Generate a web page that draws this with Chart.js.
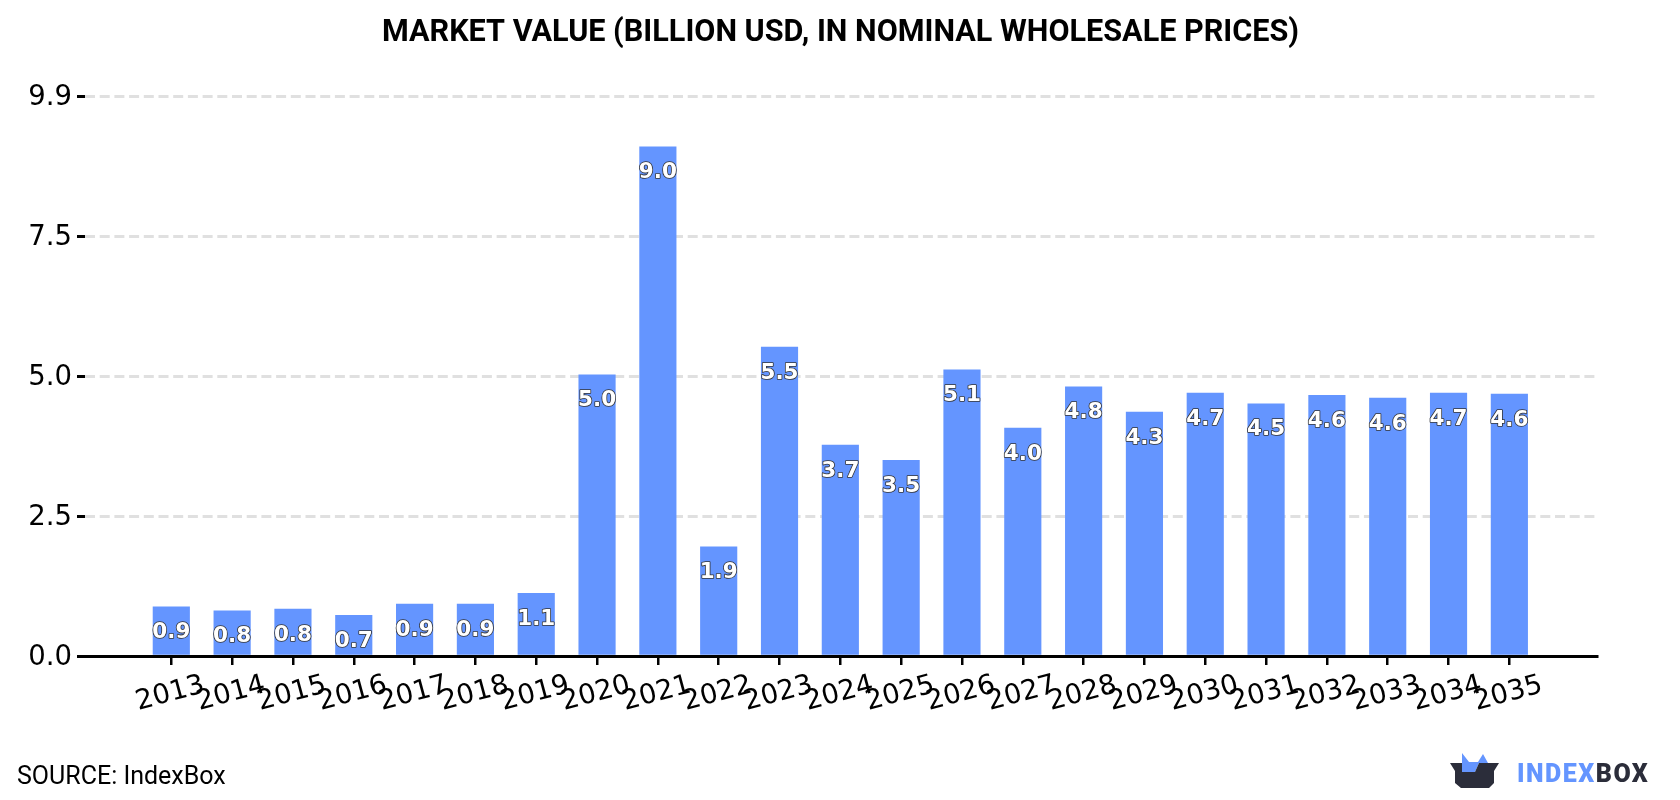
<!DOCTYPE html>
<html>
<head>
<meta charset="utf-8">
<title>Market value</title>
<script src="https://cdn.jsdelivr.net/npm/chart.js@4"></script>
<style>
  body { margin: 0; background: #fff; }
  canvas { display: block; }
</style>
</head>
<body>
<canvas id="market-chart" width="1680" height="800"></canvas>
<script>
const years = [2013, 2014, 2015, 2016, 2017, 2018, 2019, 2020, 2021, 2022, 2023, 2024,
    2025, 2026, 2027, 2028, 2029, 2030, 2031, 2032, 2033, 2034, 2035];
const marketValue = [0.87, 0.80, 0.83, 0.72, 0.92, 0.92, 1.11, 4.97, 9.00, 1.93, 5.46, 3.73,
    3.46, 5.06, 4.03, 4.76, 4.31, 4.65, 4.46, 4.61, 4.56, 4.65, 4.63];
const yTickValues = [0, 2.475, 4.95, 7.425, 9.9];
const yTickLabels = ['0.0', '2.5', '5.0', '7.5', '9.9'];

const titleText = 'MARKET VALUE (BILLION USD, IN NOMINAL WHOLESALE PRICES)';
const sourceText = 'SOURCE: IndexBox';

const BLUE = '#6495ff';
const DARK = '#2b2d3a';

// white figures with a thin dark outline, just under the top of each bar
const valueLabels = {
    id: 'valueLabels',
    afterDatasetsDraw(chart) {
        const ctx = chart.ctx;
        ctx.save();
        ctx.font = 'bold 21.5px "DejaVu Sans"';
        ctx.textAlign = 'center';
        ctx.textBaseline = 'middle';
        ctx.lineWidth = 1.6;
        ctx.lineJoin = 'round';
        ctx.strokeStyle = '#333';
        ctx.fillStyle = '#fff';
        chart.getDatasetMeta(0).data.forEach((bar, i) => {
            const label = marketValue[i].toFixed(1);
            ctx.strokeText(label, bar.x, bar.y + 26);
            ctx.fillText(label, bar.x, bar.y + 26);
        });
        ctx.restore();
    }
};

function polygon(ctx, ox, oy, pts, color) {
    ctx.fillStyle = color;
    ctx.beginPath();
    pts.forEach((p, i) => {
        if (i === 0) ctx.moveTo(ox + p[0], oy + p[1]);
        else ctx.lineTo(ox + p[0], oy + p[1]);
    });
    ctx.closePath();
    ctx.fill();
}

// page title, source line and logo sit outside the plot margins
const pageText = {
    id: 'pageText',
    afterDraw(chart) {
        const ctx = chart.ctx;
        ctx.save();
        ctx.textBaseline = 'middle';
        ctx.textAlign = 'center';
        ctx.fillStyle = '#000';
        ctx.font = 'bold 30.6px Roboto';
        ctx.fillText(titleText, 840.5, 33);

        ctx.textAlign = 'left';
        ctx.font = '25px Roboto';
        ctx.fillText(sourceText, 17, 778);

        polygon(ctx, 1450, 753, [[12, 0], [19, 9], [28, 9], [33, 1], [38, 10], [29, 10], [25, 19], [12, 19]], BLUE);
        polygon(ctx, 1450, 753, [[0, 10], [12, 10], [12, 19], [25, 19], [29, 10], [49, 10], [44, 18], [44, 30],
            [39, 35], [11, 35], [5, 30], [5, 18]], DARK);

        ctx.font = '900 25px Roboto';
        ctx.letterSpacing = '1.5px';
        ctx.fillStyle = BLUE;
        ctx.fillText('INDEX', 1517, 776);
        const w = ctx.measureText('INDEX').width;
        ctx.fillStyle = DARK;
        ctx.fillText('BOX', 1517 + w, 776);
        ctx.restore();
    }
};

const barConfig = {
    type: 'bar',
    data: {
        datasets: [{
            data: years.map((y, i) => ({ x: y, y: marketValue[i] })),
            backgroundColor: BLUE,
            barThickness: 36.5
        }]
    },
    options: {
        responsive: false,
        animation: false,
        layout: { padding: { top: 96, right: 83 } },
        plugins: {
            legend: { display: false },
            tooltip: { enabled: false }
        },
        scales: {
            x: {
                type: 'linear',
                offset: false,
                min: 2011.581,
                max: 2036.441,
                beforeUpdate(scale) {
                    // keep rotated years centred on their tick
                    scale._getXAxisLabelAlignment = () => 'center';
                },
                afterBuildTicks(scale) {
                    scale.ticks = years.map(y => ({ value: y }));
                },
                afterFit(scale) {
                    scale.height = 144;
                },
                grid: { offset: false, drawOnChartArea: false, color: '#000', lineWidth: 2.5, tickLength: 9 },
                border: { color: '#000', width: 3, z: 1 },
                ticks: {
                    autoSkip: false,
                    minRotation: 15,
                    maxRotation: 15,
                    padding: 13,
                    labelOffset: -1,
                    color: '#000',
                    font: { family: 'DejaVu Sans', size: 27.5 },
                    callback: value => String(value)
                }
            },
            y: {
                min: 0,
                max: 9.9,
                afterBuildTicks(scale) {
                    scale.ticks = yTickValues.map(v => ({ value: v }));
                },
                afterFit(scale) {
                    scale.width = 85;
                },
                grid: {
                    color: '#e0e0e0',
                    lineWidth: 3,
                    tickColor: '#000',
                    tickLength: 8,
                    tickWidth: 3
                },
                border: { display: false, dash: [10, 4.7] },
                ticks: {
                    autoSkip: false,
                    padding: 5,
                    labelOffset: 2,
                    color: '#000',
                    font: { family: 'DejaVu Sans', size: 27.5 },
                    callback: (value, index) => yTickLabels[index]
                }
            }
        }
    },
    plugins: [valueLabels, pageText]
};

var marketChart = new Chart(document.getElementById('market-chart'), barConfig);
</script>
</body>
</html>
